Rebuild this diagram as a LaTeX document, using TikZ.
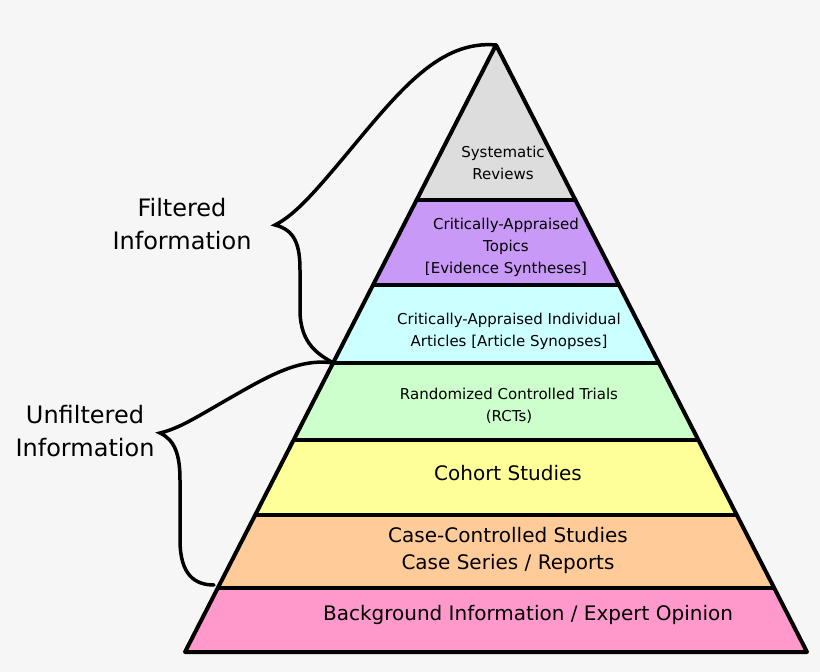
\documentclass[tikz,border=0pt]{standalone}
\usepackage{fontspec}
\setmainfont{DejaVu Sans}
\definecolor{bg}{HTML}{F6F6F6}
\definecolor{c1}{HTML}{DDDDDD}
\definecolor{c2}{HTML}{C999F7}
\definecolor{c3}{HTML}{CCFFFF}
\definecolor{c4}{HTML}{CCFFCC}
\definecolor{c5}{HTML}{FFFF99}
\definecolor{c6}{HTML}{FFCC99}
\definecolor{c7}{HTML}{FF99CC}
\begin{document}
\begin{tikzpicture}[x=1pt,y=-1pt,
  layer/.style={draw=black,line width=4pt,line join=round},
  brace/.style={draw=black,line width=3.5pt,line cap=round},
  small/.style={font=\fontsize{15}{22}\selectfont,align=center,inner sep=0pt},
  big/.style={font=\fontsize{20}{27}\selectfont,align=center,inner sep=0pt},
  lab/.style={font=\fontsize{24}{33}\selectfont,align=center,inner sep=0pt}]
\fill[bg] (0,0) rectangle (820,672);
\useasboundingbox (0,0) rectangle (820,672);
\coordinate (apex) at (496,45);
\coordinate (l1) at (416.6,200); \coordinate (r1) at (575.4,200);
\coordinate (l2) at (373.1,285); \coordinate (r2) at (618.9,285);
\coordinate (l3) at (333.2,363); \coordinate (r3) at (658.8,363);
\coordinate (l4) at (293.8,440); \coordinate (r4) at (698.2,440);
\coordinate (l5) at (255.4,515); \coordinate (r5) at (736.6,515);
\coordinate (l6) at (218,588); \coordinate (r6) at (774,588);
\coordinate (l7) at (185,652); \coordinate (r7) at (807,652);
\fill[c1] (apex) -- (r1) -- (l1) -- cycle;
\fill[c2] (l1) -- (r1) -- (r2) -- (l2) -- cycle;
\fill[c3] (l2) -- (r2) -- (r3) -- (l3) -- cycle;
\fill[c4] (l3) -- (r3) -- (r4) -- (l4) -- cycle;
\fill[c5] (l4) -- (r4) -- (r5) -- (l5) -- cycle;
\fill[c6] (l5) -- (r5) -- (r6) -- (l6) -- cycle;
\fill[c7] (l6) -- (r6) -- (r7) -- (l7) -- cycle;
\foreach \i in {1,...,6} \draw[layer] (l\i) -- (r\i);
\draw[layer] (apex) -- (r7) -- (l7) -- cycle;
\node[small] (t1) at (503,163) {Systematic\\Reviews};
\node[small] (t2) at (506,247) {Critically-Appraised\\Topics\\{[}Evidence Syntheses{]}};
\node[small] (t3) at (509,331) {Critically-Appraised Individual\\Articles {[}Article Synopses{]}};
\node[small] (t4) at (509,406) {Randomized Controlled Trials\\(RCTs)};
\node[big] (t5) at (508,473) {Cohort Studies};
\node[big] (t6) at (508,550) {Case-Controlled Studies\\Case Series / Reports};
\node[big] (t7) at (528,615) {Background Information / Expert Opinion};
\node[lab] (f) at (182,224) {Filtered\\Information};
\node[lab] (u) at (85,431) {Unfiltered\\Information};
\coordinate (ft) at (275,225);
\coordinate (ut) at (160,433);
\coordinate (ub) at (214,585);
\draw[brace] (apex) .. controls (440,40) and (400,90) .. (350,150)
  .. controls (315,192) and (295,215) .. (ft)
  .. controls (295,230) and (300,245) .. (300,270)
  -- (300,310) .. controls (300,345) and (320,355) .. (l3);
\draw[brace] (l3) .. controls (300,358) and (270,375) .. (230,398)
  .. controls (195,418) and (180,428) .. (ut)
  .. controls (175,440) and (180,455) .. (180,480)
  -- (180,540) .. controls (180,575) and (195,585) .. (ub);
\end{tikzpicture}
\end{document}
